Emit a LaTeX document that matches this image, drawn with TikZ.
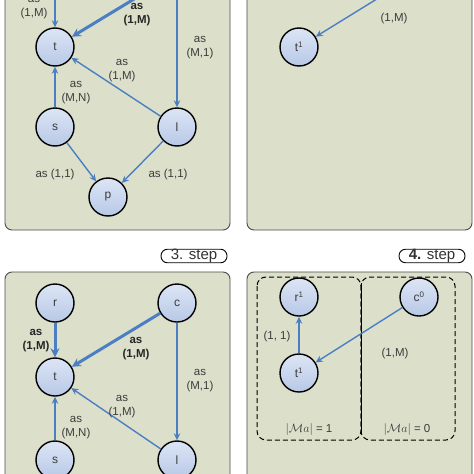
\documentclass[tikz,border=0pt]{standalone}
\usepackage{fontspec}
\setmainfont{Liberation Sans}
\usetikzlibrary{arrows.meta}
\definecolor{panelbg}{HTML}{DCE0CA}
\definecolor{nodetop}{HTML}{DCE5F5}
\definecolor{nodebot}{HTML}{B7C8E6}
\definecolor{arrowc}{HTML}{4C7EC3}
\definecolor{txt}{HTML}{3C3C3C}
\begin{document}
\begin{tikzpicture}[x=1pt,y=-1pt,
  panel/.style={draw=black!70, line width=0.9pt, fill=panelbg, rounded corners=7pt},
  vert/.style={circle, draw=black, line width=1.4pt, minimum size=38pt, inner sep=0pt,
    top color=nodetop, bottom color=nodebot, font=\fontsize{12}{12}\selectfont, text=txt},
  rel/.style={draw=arrowc, line width=1.4pt, -{Stealth[length=7pt,width=6.5pt]}},
  strong/.style={draw=arrowc, line width=3pt, -{Stealth[length=9pt,width=9pt]}},
  lbl/.style={font=\fontsize{11.5}{14}\selectfont, text=txt, align=center, inner sep=0pt},
  blbl/.style={font=\fontsize{11.5}{14}\selectfont\bfseries, text=black!85, align=center, inner sep=0pt},
  pill/.style={draw=black, line width=0.9pt, rounded corners=6.5pt, fill=white,
    minimum width=66pt, minimum height=13pt, inner sep=0pt, font=\fontsize{15}{15}\selectfont, text=black!80},
  group/.style={draw=black, line width=1pt, rounded corners=9pt, dash pattern=on 5pt off 3pt}
]
\useasboundingbox (0,0) rectangle (474,474);
\clip (0,0) rectangle (474,474);
\fill[white] (0,0) rectangle (474,474);

% ---------- panel 1 ----------
\draw[panel] (5,-60) rectangle (230,230);
\node[vert] (t1) at (55,47) {t};
\node[vert] (s1) at (55,127) {s};
\node[vert] (l1) at (177,127) {l};
\node[vert] (p1) at (108,197) {p};
\coordinate (r1) at (55,-27);
\coordinate (c1) at (177,-27);
\draw[rel] (r1) -- (t1);
\draw[strong] (c1) -- (t1);
\draw[rel] (c1) -- (l1);
\draw[rel] (s1) -- (t1);
\draw[rel] (l1) -- (t1);
\draw[rel] (s1) -- (p1);
\draw[rel] (l1) -- (p1);
\node[lbl] at (34,8) {as\\(1,M)};
\node[blbl] at (137,15) {as\\(1,M)};
\node[lbl] at (200,48) {as\\(M,1)};
\node[lbl] at (122,71) {as\\(1,M)};
\node[lbl] at (76,93) {as\\(M,N)};
\node[lbl] at (55,175) {as (1,1)};
\node[lbl] at (168,175) {as (1,1)};

% ---------- panel 2 ----------
\draw[panel] (247,-60) rectangle (472,230);
\node[vert] (t2) at (299,47) {t\textsuperscript{1}};
\coordinate (c2) at (419,-27);
\draw[rel] (c2) -- (t2);
\node[lbl] at (394,19) {(1,M)};

% ---------- panel 3 ----------
\node[pill] (st3) at (194,256) {3. step};
\draw[panel] (5,272) rectangle (230,560);
\node[vert] (r3) at (55,303) {r};
\node[vert] (c3) at (177,303) {c};
\node[vert] (t3) at (55,377) {t};
\node[vert] (s3) at (55,460) {s};
\node[vert] (l3) at (177,460) {l};
\draw[strong] (r3) -- (t3);
\draw[strong] (c3) -- (t3);
\draw[rel] (c3) -- (l3);
\draw[rel] (s3) -- (t3);
\draw[rel] (l3) -- (t3);
\node[blbl] at (36,341) {as\\(1,M)};
\node[blbl] at (136,349) {as\\(1,M)};
\node[lbl] at (200,381) {as\\(M,1)};
\node[lbl] at (122,407) {as\\(1,M)};
\node[lbl] at (76,428) {as\\(M,N)};

% ---------- panel 4 ----------
\node[pill] (st4) at (432,256) {\textbf{4.} step};
\draw[panel] (247,272) rectangle (472,560);
\draw[group] (257,277) rectangle (361,440);
\draw[group] (361,277) rectangle (455,440);
\draw[black, line width=1pt] (361,283) -- (361,434);
\node[vert] (r4) at (299,297) {r\textsuperscript{1}};
\node[vert] (c4) at (419,297) {c\textsuperscript{0}};
\node[vert] (t4) at (299,373) {t\textsuperscript{1}};
\draw[rel] (t4) -- (r4);
\draw[rel] (c4) -- (t4);
\node[lbl] at (277,337) {(1, 1)};
\node[lbl] at (395,354) {(1,M)};
\node[lbl] at (309,429) {$|\mathcal{M}a|$ = 1};
\node[lbl] at (407,429) {$|\mathcal{M}a|$ = 0};
\end{tikzpicture}
\end{document}
